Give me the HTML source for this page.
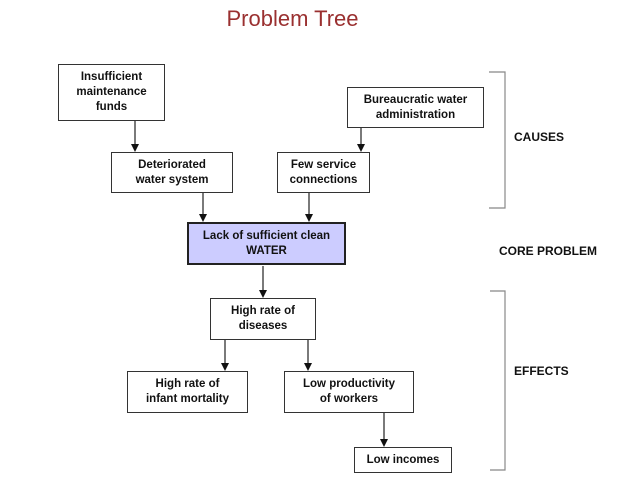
<!DOCTYPE html>
<html><head><style>
body{margin:0;background:#fff;width:638px;height:478px;overflow:hidden;position:relative;font-family:"Liberation Sans",Arial,sans-serif}
.b{position:absolute;border:1.3px solid #333;background:#fff;box-sizing:border-box;display:flex;align-items:center;justify-content:center;text-align:center;font-weight:bold;font-size:11.5px;line-height:15px;color:#111}
.l{position:absolute;font-weight:bold;font-size:12px;color:#111}
</style></head><body>
<div style="position:absolute;left:0;width:585px;top:6px;text-align:center;font-size:22px;color:#9a3030">Problem Tree</div>
<div class="b" style="left:58px;top:64px;width:107px;height:57px">Insufficient<br>maintenance<br>funds</div>
<div class="b" style="left:347px;top:87px;width:137px;height:41px">Bureaucratic water<br>administration</div>
<div class="b" style="left:111px;top:152px;width:122px;height:41px">Deteriorated<br>water system</div>
<div class="b" style="left:277px;top:152px;width:93px;height:41px">Few service<br>connections</div>
<div class="b" style="left:187px;top:222px;width:159px;height:43px;background:#ccccff;border:2px solid #222">Lack of sufficient clean<br>WATER</div>
<div class="b" style="left:210px;top:298px;width:106px;height:42px">High rate of<br>diseases</div>
<div class="b" style="left:127px;top:371px;width:121px;height:42px">High rate of<br>infant mortality</div>
<div class="b" style="left:284px;top:371px;width:130px;height:42px">Low productivity<br>of workers</div>
<div class="b" style="left:354px;top:447px;width:98px;height:26px">Low incomes</div>
<div class="l" style="left:514px;top:130px">CAUSES</div>
<div class="l" style="left:499px;top:244px">CORE PROBLEM</div>
<div class="l" style="left:514px;top:364px">EFFECTS</div>
<svg width="638" height="478" style="position:absolute;left:0;top:0">
<g stroke="#222" stroke-width="1.2">
<line x1="135" y1="121" x2="135" y2="145"/>
<line x1="361" y1="128" x2="361" y2="145"/>
<line x1="203" y1="193" x2="203" y2="215"/>
<line x1="309" y1="193" x2="309" y2="215"/>
<line x1="263" y1="266" x2="263" y2="291"/>
<line x1="225" y1="340" x2="225" y2="364"/>
<line x1="308" y1="340" x2="308" y2="364"/>
<line x1="384" y1="413" x2="384" y2="440"/>
</g>
<g fill="#111">
<path d="M131,144h8l-4,8z"/>
<path d="M357,144h8l-4,8z"/>
<path d="M199,214h8l-4,8z"/>
<path d="M305,214h8l-4,8z"/>
<path d="M259,290h8l-4,8z"/>
<path d="M221,363h8l-4,8z"/>
<path d="M304,363h8l-4,8z"/>
<path d="M380,439h8l-4,8z"/>
</g>
<g stroke="#888" stroke-width="1.2" fill="none">
<polyline points="489,72 505,72 505,208 489,208"/>
<polyline points="490,291 505,291 505,470 490,470"/>
</g>
</svg>
</body></html>
